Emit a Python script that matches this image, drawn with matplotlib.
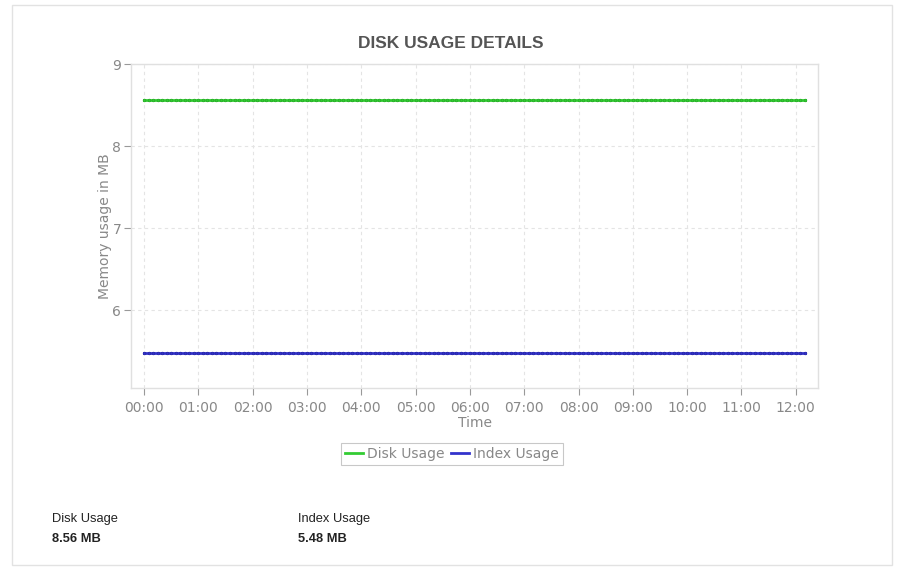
#!/usr/bin/env python3
"""Disk usage details chart: disk and index usage over time."""

import numpy as np
import matplotlib
matplotlib.use('Agg')
import matplotlib.pyplot as plt
from matplotlib.patches import Rectangle

# time axis in hours (samples every 5 minutes from 00:00 to 12:10)
hours = np.arange(0, 12.17, 5 / 60.0)
disk_usage = [8.56] * len(hours)
index_usage = [5.48] * len(hours)

tick_hours = list(range(0, 13))
tick_labels = [f"{h:02d}:00" for h in tick_hours]
y_ticks = [6, 7, 8, 9]

summary_labels = ['Disk Usage', 'Index Usage']
summary_values = ['8.56 MB', '5.48 MB']

GREEN = '#33cc33'
BLUE = '#3333cc'
GRAY_TEXT = '#888888'

fig = plt.figure(figsize=(9.01, 5.75), dpi=100)

# outer panel border (no fill so the axes stay visible)
fig.patches.append(Rectangle((12 / 901, 1 - 565 / 575), 880 / 901, 560 / 575,
                             transform=fig.transFigure, facecolor='none',
                             edgecolor='#e2e2e2', linewidth=1.0, zorder=-1))

ax = fig.add_axes([131 / 901, 1 - 388 / 575, 687 / 901, 324 / 575])

ax.plot(hours, disk_usage, color=GREEN, linewidth=2.0, marker='o', markersize=2.0,
        markeredgewidth=0.4, markeredgecolor='#22a022', label='Disk Usage', zorder=3)
ax.plot(hours, index_usage, color=BLUE, linewidth=2.0, marker='o', markersize=2.0,
        markeredgewidth=0.4, markeredgecolor='#22229a', label='Index Usage', zorder=3)

ax.set_xlim(-0.24, 12.41)
ax.set_ylim(5.05, 9.0)
ax.set_xticks(tick_hours)
ax.set_xticklabels(tick_labels)
ax.set_yticks(y_ticks)

ax.grid(True, color='#e4e4e4', linestyle='--', linewidth=0.8, dashes=(3, 3))
ax.set_axisbelow(True)
for sp in ax.spines.values():
    sp.set_color('#e0e0e0')
    sp.set_linewidth(1.0)

ax.tick_params(axis='both', colors='#999999', labelcolor=GRAY_TEXT,
               labelsize=10, length=5, width=0.8)
ax.tick_params(axis='x', pad=4)
ax.tick_params(axis='y', pad=2)

# title is centred on the whole panel, not on the axes
fig.text(0.5, 1 - 44 / 575, 'DISK USAGE DETAILS', fontsize=12.5, fontweight='bold',
         color='#555555', family='Liberation Sans', ha='center', va='center')
ax.set_xlabel('Time', fontsize=10, color=GRAY_TEXT, labelpad=1)
ax.set_ylabel('Memory usage in MB', fontsize=10, color=GRAY_TEXT, labelpad=0)

leg = ax.legend(loc='center', bbox_to_anchor=(452 / 901, 1 - 454 / 575),
                bbox_transform=fig.transFigure, ncol=2,
                frameon=True, fancybox=False, fontsize=10, handlelength=1.3,
                handletextpad=0.25, columnspacing=0.5, borderpad=0.3,
                borderaxespad=0.0)
leg.get_frame().set_edgecolor('#bbbbbb')
leg.get_frame().set_linewidth(0.8)
for txt in leg.get_texts():
    txt.set_color(GRAY_TEXT)
for line in leg.get_lines():
    line.set_marker('')
    line.set_linewidth(2.0)

# summary block below the chart
x_positions = [52 / 901, 298 / 901]
for xp, lab, val in zip(x_positions, summary_labels, summary_values):
    fig.text(xp, 1 - 519 / 575, lab, fontsize=9.3, color='#222222',
             family='Liberation Sans', va='center', ha='left')
    fig.text(xp, 1 - 539 / 575, val, fontsize=9.3, color='#222222',
             family='Liberation Sans', fontweight='bold', va='center', ha='left')

fig.savefig('out.png', dpi=100)
